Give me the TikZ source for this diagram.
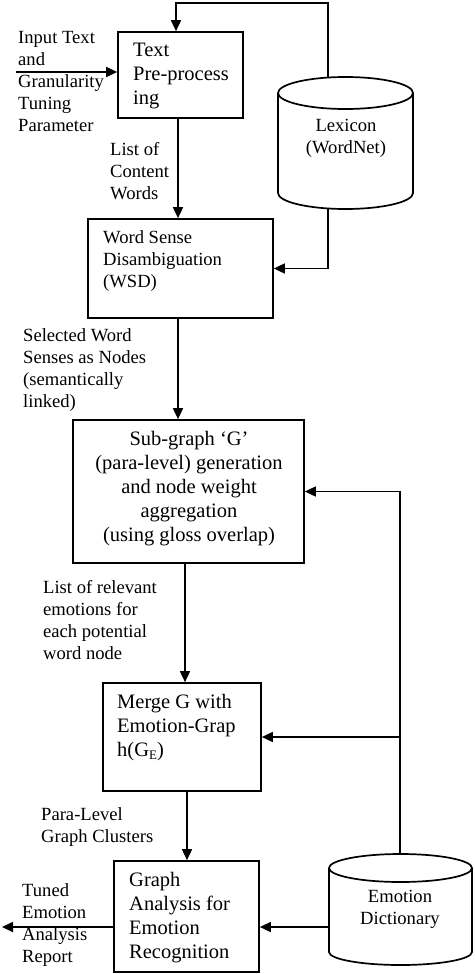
\documentclass[tikz,border=0pt]{standalone}
\usepackage{fontspec}
\setmainfont{Liberation Serif}
\usetikzlibrary{arrows.meta,calc}
\tikzset{
  box/.style={draw, line width=1.7pt, inner sep=0pt},
  lab/.style={font=\fontsize{18.6}{22}\selectfont, align=left, inner sep=0pt},
  bt/.style={font=\fontsize{20.5}{24}\selectfont, align=left, inner sep=0pt},
  arr/.style={line width=1.7pt, -{Triangle[length=11pt,width=10pt]}},
  cyl/.style={line width=1.7pt}
}
\begin{document}
\begin{tikzpicture}[x=1pt,y=-1pt]
\useasboundingbox (0,0) rectangle (474,974);
% boxes
\node[box, minimum width=125pt, minimum height=86pt] (tp) at (180.5,75) {};
\node[box, minimum width=185pt, minimum height=99pt] (wsd) at (180.5,268.5) {};
\node[box, minimum width=231pt, minimum height=143pt] (subg) at (188.5,491.5) {};
\node[box, minimum width=158pt, minimum height=108pt] (merge) at (182,737) {};
\node[box, minimum width=145pt, minimum height=111pt] (ga) at (186.5,916.5) {};
% box texts
\node[bt, anchor=west] (tpt) at (133,76) {Text\\Pre-process\\ing};
\node[lab, anchor=west] (wsdt) at (103,261) {Word Sense\\Disambiguation\\(WSD)};
\node[bt, align=center] (subgt) at (189,488.5) {Sub-graph ‘G’\\(para-level) generation\\and node weight\\aggregation\\(using gloss overlap)};
\node[bt, anchor=west] (merget) at (117,727.5) {Merge G with\\Emotion-Grap\\h(G\raisebox{-0.3ex}{\fontsize{13}{13}\selectfont E})};
\node[bt, anchor=west] (gat) at (129,917.5) {Graph\\Analysis for\\Emotion\\Recognition};
% cylinders
\coordinate (lexc) at (345.5,93);
\draw[cyl] (lexc) ellipse [x radius=67.5pt, y radius=16pt];
\draw[cyl] (278,93) -- (278,193) arc[start angle=180,end angle=360,x radius=67.5pt,y radius=16pt] -- (413,93);
\node[lab, align=center] (lext) at (346,138) {Lexicon\\(WordNet)};
\coordinate (edc) at (400.5,868);
\draw[cyl] (edc) ellipse [x radius=71.5pt, y radius=14pt];
\draw[cyl] (329,868) -- (329,952) arc[start angle=180,end angle=360,x radius=71.5pt,y radius=13pt] -- (472,868);
\node[lab, align=center] (edt) at (400,909) {Emotion\\Dictionary};
% labels
\node[lab, anchor=west] (inl) at (18,82) {Input Text\\and\\Granularity\\Tuning\\Parameter};
\node[lab, anchor=west] (cwl) at (110,171.5) {List of\\Content\\Words};
\node[lab, anchor=west] (sel) at (23,370.5) {Selected Word\\Senses as Nodes\\(semantically\\linked)};
\node[lab, anchor=west] (rel) at (43,620.5) {List of relevant\\emotions for\\each potential\\word node};
\node[lab, anchor=west] (pll) at (41,827.5) {Para-Level\\Graph Clusters};
\node[lab, anchor=west] (tul) at (22,925) {Tuned\\Emotion\\Analysis\\Report};
% coordinates
\coordinate (in) at (16,72);
\coordinate (lextop) at (328,77);
\coordinate (lexbot) at (328,209);
\coordinate (topline) at (176,3);
\coordinate (edtop) at (400,854);
\coordinate (edl) at (329,927);
\coordinate (out) at (2,927);
\coordinate (c1) at (185,0);
\coordinate (c2) at (187,0);
% connectors
\draw[arr] (in) -- (in -| tp.west);
\draw[arr] (lextop) |- (topline) -- (topline |- tp.north);
\draw[arr] (tp.south -| 178,0) -- (178,0 |- wsd.north);
\draw[arr] (lexbot) |- (wsd.east);
\draw[arr] (wsd.south -| 178,0) -- (178,0 |- subg.north);
\draw[arr] (c1 |- subg.south) -- (c1 |- merge.north);
\draw[arr] (c2 |- merge.south) -- (c2 |- ga.north);
\draw[arr] (edtop) |- (subg.east);
\draw[arr] (edtop |- merge.east) -- (merge.east);
\draw[arr] (edl) -- (edl -| ga.east);
\draw[arr] (out -| ga.west) -- (out);
\end{tikzpicture}
\end{document}
